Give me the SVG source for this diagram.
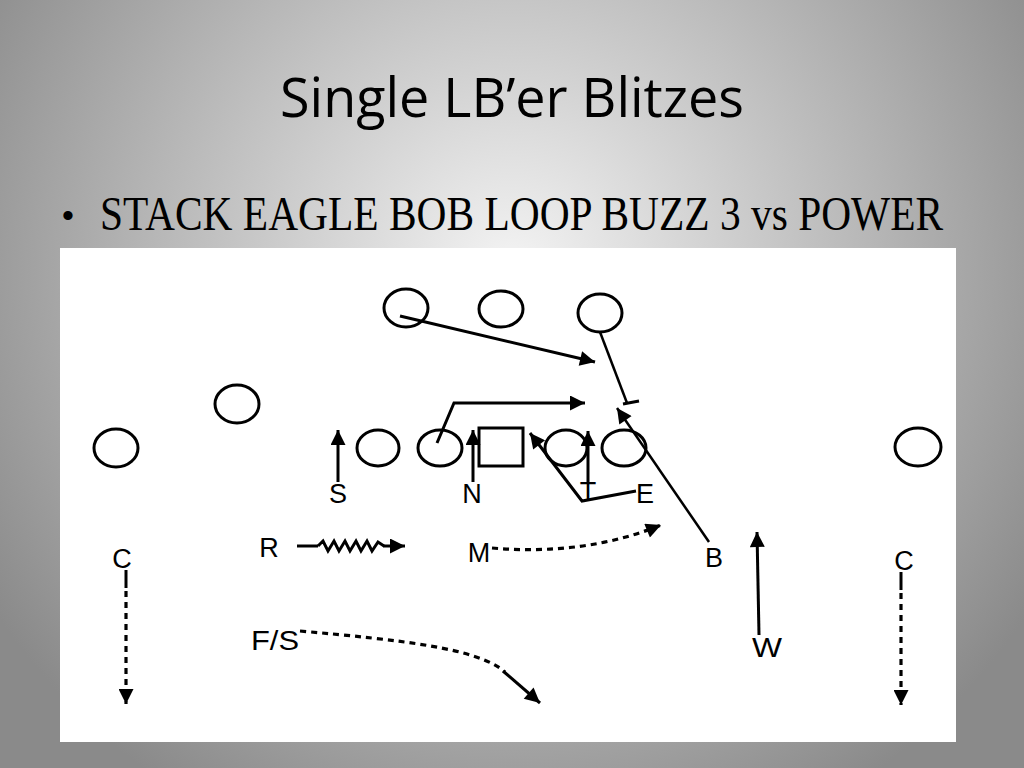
<svg xmlns="http://www.w3.org/2000/svg" width="1024" height="768" viewBox="0 0 1024 768">
<defs>
<radialGradient id="bg" gradientUnits="userSpaceOnUse" cx="512" cy="270" r="620">
<stop offset="0" stop-color="#f4f4f4"/>
<stop offset="1" stop-color="#8a8a8a"/>
</radialGradient>
<marker id="ah" viewBox="0 0 10 10" refX="10" refY="5" markerWidth="18" markerHeight="15" markerUnits="userSpaceOnUse" orient="auto">
<path d="M0,0 L10,5 L0,10 Z" fill="#000"/>
</marker>
<style>
.pl{fill:none;stroke:#000;stroke-width:3}
.ln{fill:none;stroke:#000;stroke-width:3}
.th{fill:none;stroke:#000;stroke-width:2.5}
.ds{fill:none;stroke:#000;stroke-width:3.2;stroke-dasharray:6 5}
.lb{font-family:"Liberation Sans",Arial,sans-serif;font-size:27px;fill:#000;text-anchor:middle}
</style>
</defs>
<rect x="0" y="0" width="1024" height="768" fill="url(#bg)"/>
<text x="512" y="117" font-family="'Open Sans','Liberation Sans',sans-serif" font-size="54" fill="#000" text-anchor="middle" textLength="464" lengthAdjust="spacingAndGlyphs">Single LB’er Blitzes</text>
<text x="68" y="227" font-family="'Liberation Sans',sans-serif" font-size="34" fill="#000" text-anchor="middle">•</text>
<text transform="translate(100,230) scale(0.863,1)" x="0" y="0" font-family="'Liberation Serif',serif" font-size="48" fill="#000">STACK EAGLE BOB LOOP BUZZ 3 vs POWER</text>
<rect x="60" y="248" width="896" height="494" fill="#fff"/>

<g id="players">
<g id="o1"><ellipse class="pl" cx="406" cy="308" rx="22" ry="19"/></g>
<g id="o2"><ellipse class="pl" cx="501" cy="309" rx="22" ry="18"/></g>
<g id="o3"><ellipse class="pl" cx="600" cy="313" rx="22" ry="19"/></g>
<g id="o4"><ellipse class="pl" cx="237" cy="404" rx="22" ry="19"/></g>
<g id="o5"><ellipse class="pl" cx="116" cy="448" rx="22" ry="19"/></g>
<g id="o6"><ellipse class="pl" cx="378" cy="448" rx="21" ry="18"/></g>
<g id="o7"><ellipse class="pl" cx="440" cy="448" rx="22" ry="18"/></g>
<g id="center"><rect class="pl" x="479" y="428" width="44" height="38"/></g>
<g id="o8"><ellipse class="pl" cx="566" cy="448" rx="21" ry="18"/></g>
<g id="o9"><ellipse class="pl" cx="624" cy="448" rx="22" ry="18"/></g>
<g id="o10"><ellipse class="pl" cx="918" cy="447" rx="23" ry="19"/></g>
</g>

<g id="labels">
<g id="S"><text class="lb" x="338" y="503">S</text></g>
<g id="N"><text class="lb" x="472" y="503">N</text></g>
<g id="T"><text class="lb" x="588" y="501">T</text></g>
<g id="E"><text class="lb" x="645" y="503">E</text></g>
<g id="R"><text class="lb" x="269" y="557">R</text></g>
<g id="M"><text class="lb" x="479" y="562">M</text></g>
<g id="B"><text class="lb" x="714" y="567">B</text></g>
<g id="CL"><text class="lb" x="122" y="568">C</text></g>
<g id="CR"><text class="lb" x="904" y="570">C</text></g>
<g id="FS"><text class="lb" x="275" y="650" textLength="48" lengthAdjust="spacingAndGlyphs">F/S</text></g>
<g id="W"><text class="lb" x="767" y="657" textLength="30" lengthAdjust="spacingAndGlyphs">W</text></g>
</g>

<g id="connectors">
<line class="ln" x1="400" y1="316" x2="595" y2="362" marker-end="url(#ah)"/>
<line class="th" x1="600" y1="332" x2="627" y2="403"/>
<line class="ln" x1="623" y1="404" x2="639" y2="401"/>
<line class="th" x1="709" y1="542" x2="617" y2="408" marker-end="url(#ah)"/>
<polyline class="ln" points="437,443 454,403 585,403" marker-end="url(#ah)"/>
<line class="ln" x1="473" y1="482" x2="473" y2="430" marker-end="url(#ah)"/>
<line class="ln" x1="588" y1="484" x2="588" y2="431" marker-end="url(#ah)"/>
<polyline class="ln" points="636,491 582,501 530,433" marker-end="url(#ah)"/>
<line class="ln" x1="338" y1="482" x2="338" y2="430" marker-end="url(#ah)"/>
<line class="ln" x1="297" y1="546" x2="318" y2="546"/>
<polyline class="ln" points="318,546 323,541 328,551 334,541 339,551 345,541 350,551 356,541 361,551 367,541 372,551 378,542 384,546"/>
<line class="ln" x1="383" y1="546" x2="405" y2="546" marker-end="url(#ah)"/>
<path class="ds" d="M492,548 Q585,556 661,525" marker-end="url(#ah)"/>
<path class="ds" d="M300,631 C400,640 478,648 505,672"/>
<line class="ln" x1="503" y1="671" x2="540" y2="703" marker-end="url(#ah)"/>
<line class="ln" x1="126" y1="570" x2="126" y2="588"/>
<line class="ds" x1="126" y1="591" x2="126" y2="704" marker-end="url(#ah)"/>
<line class="ln" x1="901" y1="572" x2="901" y2="590"/>
<line class="ds" x1="901" y1="593" x2="901" y2="705" marker-end="url(#ah)"/>
<line class="ln" x1="759" y1="635" x2="757" y2="532" marker-end="url(#ah)"/>
</g>
</svg>
